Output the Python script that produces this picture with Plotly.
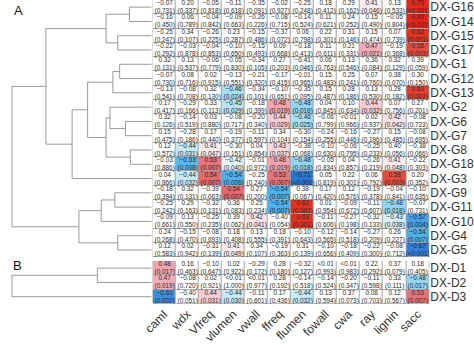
import plotly.graph_objects as go

# ---------------- data ----------------
columns = ["camI", "wdx", "Vfreq", "vlumen", "vwall", "ffreq",
           "flumen", "fowall", "cwa", "ray", "lignin", "sacc"]

rows_A = ["DX-G16", "DX-G14", "DX-G15", "DX-G17", "DX-G1", "DX-G12", "DX-G13",
          "DX-G2", "DX-G6", "DX-G7", "DX-G8", "DX-G18", "DX-G3", "DX-G9",
          "DX-G11", "DX-G10", "DX-G4", "DX-G5"]
rows_B = ["DX-D1", "DX-D2", "DX-D3"]

# correlation coefficients (0.00 is printed as "<0.01")
r_A = [
    [-0.07, 0.20, -0.05, -0.11, -0.35, -0.02, -0.25, 0.18, 0.29, 0.41, 0.13, 0.75],
    [-0.16, 0.06, -0.04, -0.09, -0.26, -0.08, -0.14, 0.11, 0.24, 0.15, -0.05, 0.80],
    [-0.25, 0.34, -0.26, 0.23, -0.15, -0.37, 0.06, 0.22, 0.31, 0.15, 0.07, 0.62],
    [-0.22, -0.03, -0.04, -0.10, -0.15, 0.09, -0.18, 0.11, 0.21, 0.47, -0.19, 0.58],
    [0.32, 0.13, -0.06, -0.05, -0.34, 0.27, -0.41, 0.06, 0.13, 0.36, 0.32, 0.39],
    [-0.07, 0.08, 0.02, -0.13, -0.21, -0.17, -0.01, 0.15, 0.25, 0.07, 0.38, 0.30],
    [-0.13, -0.08, 0.32, -0.46, -0.34, -0.10, -0.35, 0.15, 0.28, 0.13, 0.28, 0.60],
    [0.17, -0.29, 0.33, -0.45, -0.18, 0.48, -0.48, 0.04, 0.10, 0.44, 0.07, 0.27],
    [0.32, -0.14, 0.03, -0.08, -0.20, 0.44, -0.46, -0.06, 0.00, 0.02, 0.42, -0.08],
    [0.15, -0.28, 0.17, -0.19, -0.11, 0.34, -0.30, -0.24, -0.16, -0.27, 0.15, -0.08],
    [0.12, -0.44, 0.41, -0.30, 0.04, 0.43, -0.38, -0.10, -0.06, -0.25, 0.40, -0.38],
    [-0.03, -0.53, 0.53, -0.42, -0.01, 0.48, -0.48, -0.05, 0.04, -0.26, 0.41, -0.22],
    [0.04, -0.44, 0.54, -0.54, -0.25, 0.53, -0.71, 0.05, 0.22, 0.06, 0.58, 0.20],
    [-0.18, 0.32, -0.39, 0.54, 0.27, -0.54, 0.38, 0.17, 0.12, -0.19, -0.04, -0.10],
    [-0.25, 0.29, -0.32, 0.36, 0.25, -0.54, 0.62, 0.01, -0.09, -0.11, -0.48, -0.07],
    [-0.09, 0.13, -0.25, 0.39, 0.42, -0.40, 0.63, -0.11, -0.27, -0.32, -0.43, -0.57],
    [0.24, -0.15, -0.08, 0.18, 0.13, 0.18, -0.10, -0.12, -0.14, -0.27, 0.26, -0.54],
    [0.12, 0.02, -0.31, 0.41, 0.34, -0.19, 0.31, -0.10, -0.18, -0.22, -0.08, -0.67],
]
# p-values (0 is printed as "<0.001")
p_A = [
    [0.731, 0.337, 0.818, 0.618, 0.091, 0.927, 0.248, 0.412, 0.162, 0.046, 0.533, 0],
    [0.450, 0.789, 0.842, 0.663, 0.226, 0.715, 0.524, 0.621, 0.252, 0.490, 0.804, 0],
    [0.247, 0.107, 0.225, 0.287, 0.486, 0.072, 0.798, 0.301, 0.146, 0.474, 0.739, 0.001],
    [0.292, 0.878, 0.853, 0.650, 0.493, 0.668, 0.413, 0.611, 0.331, 0.021, 0.368, 0.003],
    [0.131, 0.537, 0.779, 0.830, 0.105, 0.203, 0.046, 0.763, 0.546, 0.084, 0.129, 0.059],
    [0.730, 0.716, 0.915, 0.551, 0.320, 0.415, 0.965, 0.483, 0.241, 0.760, 0.070, 0.150],
    [0.541, 0.708, 0.130, 0.024, 0.101, 0.651, 0.095, 0.487, 0.186, 0.530, 0.182, 0.002],
    [0.417, 0.166, 0.113, 0.029, 0.399, 0.019, 0.016, 0.845, 0.634, 0.032, 0.756, 0.201],
    [0.126, 0.519, 0.880, 0.717, 0.340, 0.029, 0.025, 0.799, 0.966, 0.937, 0.042, 0.723],
    [0.475, 0.186, 0.440, 0.377, 0.597, 0.104, 0.154, 0.255, 0.446, 0.196, 0.485, 0.695],
    [0.572, 0.031, 0.047, 0.151, 0.854, 0.037, 0.068, 0.630, 0.795, 0.233, 0.056, 0.066],
    [0.886, 0.008, 0.007, 0.040, 0.972, 0.019, 0.018, 0.834, 0.857, 0.219, 0.048, 0.303],
    [0.866, 0.032, 0.007, 0.006, 0.240, 0.007, 0, 0.819, 0.301, 0.792, 0.003, 0.352],
    [0.394, 0.131, 0.063, 0.007, 0.200, 0.007, 0.067, 0.420, 0.576, 0.378, 0.841, 0.635],
    [0.242, 0.163, 0.131, 0.083, 0.234, 0.007, 0.001, 0.954, 0.672, 0.607, 0.018, 0.731],
    [0.661, 0.550, 0.235, 0.062, 0.041, 0.054, 0.001, 0.606, 0.198, 0.133, 0.038, 0.004],
    [0.268, 0.470, 0.693, 0.408, 0.555, 0.391, 0.643, 0.565, 0.518, 0.209, 0.227, 0.007],
    [0.583, 0.942, 0.139, 0.049, 0.107, 0.363, 0.139, 0.656, 0.409, 0.300, 0.712, 0],
]
r_B = [
    [0.48, 0.16, -0.10, 0.02, -0.29, 0.28, -0.32, 0.00, 0.00, 0.22, 0.37, 0.18],
    [0.47, -0.08, 0.02, 0.00, 0.00, 0.28, -0.14, -0.14, -0.20, -0.11, 0.33, -0.48],
    [-0.61, -0.40, 0.44, -0.44, -0.11, 0.17, -0.44, 0.13, 0.37, 0.08, 0.12, 0.53],
]
p_B = [
    [0.017, 0.463, 0.647, 0.922, 0.172, 0.180, 0.127, 0.993, 0.983, 0.292, 0.079, 0.405],
    [0.019, 0.720, 0.921, 1.000, 0.977, 0.192, 0.518, 0.524, 0.347, 0.598, 0.111, 0.017],
    [0.002, 0.051, 0.031, 0.030, 0.601, 0.436, 0.032, 0.594, 0.073, 0.703, 0.567, 0.007],
]

# dendrogram structure: [merge height, left, right]
tree_A = [144,
          [109,
           [47, [23, "DX-G16", "DX-G14"], [35, "DX-G15", "DX-G17"]],
           [82,
            [66,
             [40, [33, "DX-G1", "DX-G12"], "DX-G13"],
             [47, [43, "DX-G2", [27, "DX-G6", "DX-G7"]], [22, "DX-G8", "DX-G18"]]],
            "DX-G3"]],
          [75, [52, [38, "DX-G9", "DX-G11"], "DX-G10"], [35, "DX-G4", "DX-G5"]]]
tree_B = [144, [56, "DX-D1", "DX-D2"], "DX-D3"]

# ---------------- helpers ----------------
MINUS = "\u2212"


def fmt_r(v):
    if v == 0:
        return "<0.01"
    return f"{v:.2f}".replace("-", MINUS)


def fmt_p(v):
    if v < 0.001:
        return "(<0.001)"
    return f"({v:.3f})"


def cell_text(R, P):
    return [[fmt_r(r) + "<br>" + fmt_p(p) for r, p in zip(rr, pp)] for rr, pp in zip(R, P)]


def shade(R, P):
    return [[r if p < 0.05 else 0 for r, p in zip(rr, pp)] for rr, pp in zip(R, P)]


def dendro(tree, labels):
    pos = {lab: i for i, lab in enumerate(labels)}
    xs, ys = [], []

    def walk(node):
        if isinstance(node, str):
            return 0, pos[node]
        h, a, b = node
        ha, ya = walk(a)
        hb, yb = walk(b)
        xs.extend([ha, h, h, hb, None])
        ys.extend([ya, ya, yb, yb, None])
        return h, (ya + yb) / 2

    walk(tree)
    return xs, ys


zmin, zmax = -0.8, 0.8


def t(z):
    return (z - zmin) / (zmax - zmin)


colorscale = [
    [t(-0.80), "#1f5fcf"],
    [t(-0.70), "#2b76d8"],
    [t(-0.60), "#3f8fe0"],
    [t(-0.54), "#4db0ea"],
    [t(-0.50), "#7cc9ef"],
    [t(-0.46), "#a8def2"],
    [t(-0.42), "#e3f4fa"],
    [t(-0.39), "#ffffff"],
    [t(0.39), "#ffffff"],
    [t(0.42), "#fbe3e7"],
    [t(0.46), "#f5b6c0"],
    [t(0.50), "#ee8f97"],
    [t(0.54), "#e4686c"],
    [t(0.58), "#e44a3c"],
    [t(0.62), "#e2321f"],
    [t(0.80), "#e8241a"],
]

W, H = 474, 345
FONT = "Arial, Liberation Sans, sans-serif"
GRID = "#a3a3a3"
LINE = "#9a9a9a"

hm_x0, hm_x1 = 147, 432
A_top, A_bot = 0, 264
B_top, B_bot = 268, 312
dend_x1 = 146

fig = go.Figure()

for R, P, yax, n in [(r_A, p_A, "y", len(rows_A)), (r_B, p_B, "y2", len(rows_B))]:
    fig.add_trace(go.Heatmap(
        z=shade(R, P), x=list(range(len(columns))), y=list(range(n)),
        text=cell_text(R, P), texttemplate="%{text}",
        textfont=dict(family=FONT, size=6.4, color="#2b2b2b"),
        colorscale=colorscale, zmin=zmin, zmax=zmax, showscale=False,
        xgap=1, ygap=1, hoverinfo="skip", xaxis="x", yaxis=yax))
    fig.add_shape(type="rect", xref="x", yref=yax, x0=-0.5, x1=len(columns) - 0.5,
                  y0=-0.5, y1=n - 0.5, fillcolor=GRID, line=dict(color=GRID, width=1),
                  layer="below")

for tree, labels, yax in [(tree_A, rows_A, "y"), (tree_B, rows_B, "y2")]:
    xs, ys = dendro(tree, labels)
    fig.add_trace(go.Scatter(x=xs, y=ys, mode="lines", xaxis="x2", yaxis=yax,
                             line=dict(color=LINE, width=1), hoverinfo="skip"))

tick_font = dict(family=FONT, size=12, color="#333333")
fig.update_layout(
    width=W, height=H, margin=dict(l=0, r=0, t=0, b=0),
    paper_bgcolor="white", plot_bgcolor="white", showlegend=False,
    xaxis=dict(domain=[hm_x0 / W, hm_x1 / W], anchor="y2", range=[-0.5, len(columns) - 0.5],
               tickmode="array", tickvals=list(range(len(columns))), ticktext=columns,
               tickangle=-45, tickfont=tick_font, showgrid=False, zeroline=False,
               ticks="", showline=False),
    yaxis=dict(domain=[1 - A_bot / H, 1 - A_top / H], anchor="x", side="right",
               range=[len(rows_A) - 0.5, -0.5], tickmode="array",
               tickvals=list(range(len(rows_A))), ticktext=rows_A, tickfont=tick_font,
               showgrid=False, zeroline=False, ticks="", showline=False),
    yaxis2=dict(domain=[1 - B_bot / H, 1 - B_top / H], anchor="x", side="right",
                range=[len(rows_B) - 0.5, -0.5], tickmode="array",
                tickvals=list(range(len(rows_B))), ticktext=rows_B, tickfont=tick_font,
                showgrid=False, zeroline=False, ticks="", showline=False),
    xaxis2=dict(domain=[0, dend_x1 / W], anchor="y", range=[dend_x1, 0], visible=False),
)

fig.add_annotation(x=0.004, y=1 - 1 / H, xref="paper", yref="paper", text="A",
                   showarrow=False, xanchor="left", yanchor="top",
                   font=dict(family=FONT, size=13, color="#111111"))
fig.add_annotation(x=0.002, y=1 - 273 / H, xref="paper", yref="paper", text="B",
                   showarrow=False, xanchor="left", yanchor="middle",
                   font=dict(family=FONT, size=13, color="#111111"))

fig.write_html("out.html")
